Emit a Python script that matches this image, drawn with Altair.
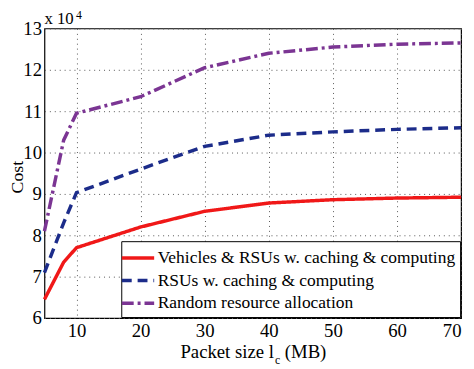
import altair as alt
import pandas as pd

packet = [5, 8, 10, 20, 30, 40, 50, 60, 70]
vehicles_rsus = [6.45, 7.35, 7.7, 8.2, 8.58, 8.78, 8.86, 8.9, 8.92]
rsus_only = [7.1, 8.3, 9.03, 9.6, 10.15, 10.42, 10.5, 10.56, 10.6]
random_alloc = [8.1, 10.3, 10.95, 11.35, 12.05, 12.4, 12.55, 12.62, 12.65]

series = [
    "Vehicles & RSUs w. caching & computing",
    "RSUs w. caching & computing",
    "Random resource allocation",
]
colors = ["#f01818", "#1c2c8a", "#7b3593"]
dashes = [[1, 0], [10, 6], [12, 4, 3, 4]]

x_ticks = [10, 20, 30, 40, 50, 60, 70]
y_ticks = [6, 7, 8, 9, 10, 11, 12, 13]

rows = []
for name, vals in zip(series, [vehicles_rsus, rsus_only, random_alloc]):
    for p, v in zip(packet, vals):
        rows.append({"packet": p, "cost": v, "series": name})
df = pd.DataFrame(rows)

FONT = "Liberation Serif"

leg = alt.Legend(title=None, orient="bottom-right", offset=1, labelFont=FONT,
                 labelFontSize=17.7, labelLimit=0)

lines = alt.Chart(df).mark_line(strokeWidth=3.5).encode(
    x=alt.X("packet:Q", scale=alt.Scale(domain=[5, 70], nice=False),
            axis=alt.Axis(values=x_ticks, title=None, grid=True, ticks=False,
                          labelPadding=4, domain=False, labelFont=FONT,
                          labelFontSize=19)),
    y=alt.Y("cost:Q", scale=alt.Scale(domain=[6, 13], nice=False),
            axis=alt.Axis(values=y_ticks, title=None, grid=True, ticks=False,
                          labelPadding=3, domain=False,
                          labelFont=FONT, labelFontSize=19)),
    color=alt.Color("series:N", scale=alt.Scale(domain=series, range=colors),
                    legend=leg),
    strokeDash=alt.StrokeDash("series:N", scale=alt.Scale(domain=series, range=dashes),
                              legend=leg),
)

def label(text, x, y, size=19, align="left", baseline="alphabetic", angle=0):
    return alt.Chart(pd.DataFrame({"t": [text]})).mark_text(
        font=FONT, fontSize=size, align=align, baseline=baseline, color="black",
        angle=angle,
    ).encode(x=alt.value(x), y=alt.value(y), text="t:N")

annots = [
    label("Cost", -22, 151, size=18, align="center", angle=270),
    label("x 10", 0, -5, size=17),
    label("4", 32, -10, size=12),
    label("Packet size l", 233, 335, align="right"),
    label("c", 234, 341, size=12),
    label("(MB)", 244, 335),
]

chart = alt.layer(lines, *annots).properties(
    width=423, height=294,
    autosize=alt.AutoSizeParams(type="none"),
    padding={"left": 37, "top": 18, "right": 5, "bottom": 49},
).configure_view(
    stroke="black", strokeWidth=1.2
).configure_axis(
    labelColor="black", titleColor="black", titleFontWeight="normal",
    gridColor="#555555", gridDash=[1, 4], gridWidth=1,
).configure_legend(
    labelColor="black",
    strokeColor="black", fillColor="white", padding=5,
    symbolType="M-1.6,0H1.6", symbolSize=420, symbolStrokeWidth=3.5,
    rowPadding=2, labelOffset=8, cornerRadius=0,
)

chart.save("out.html", embed_options={"renderer": "svg", "actions": False})
